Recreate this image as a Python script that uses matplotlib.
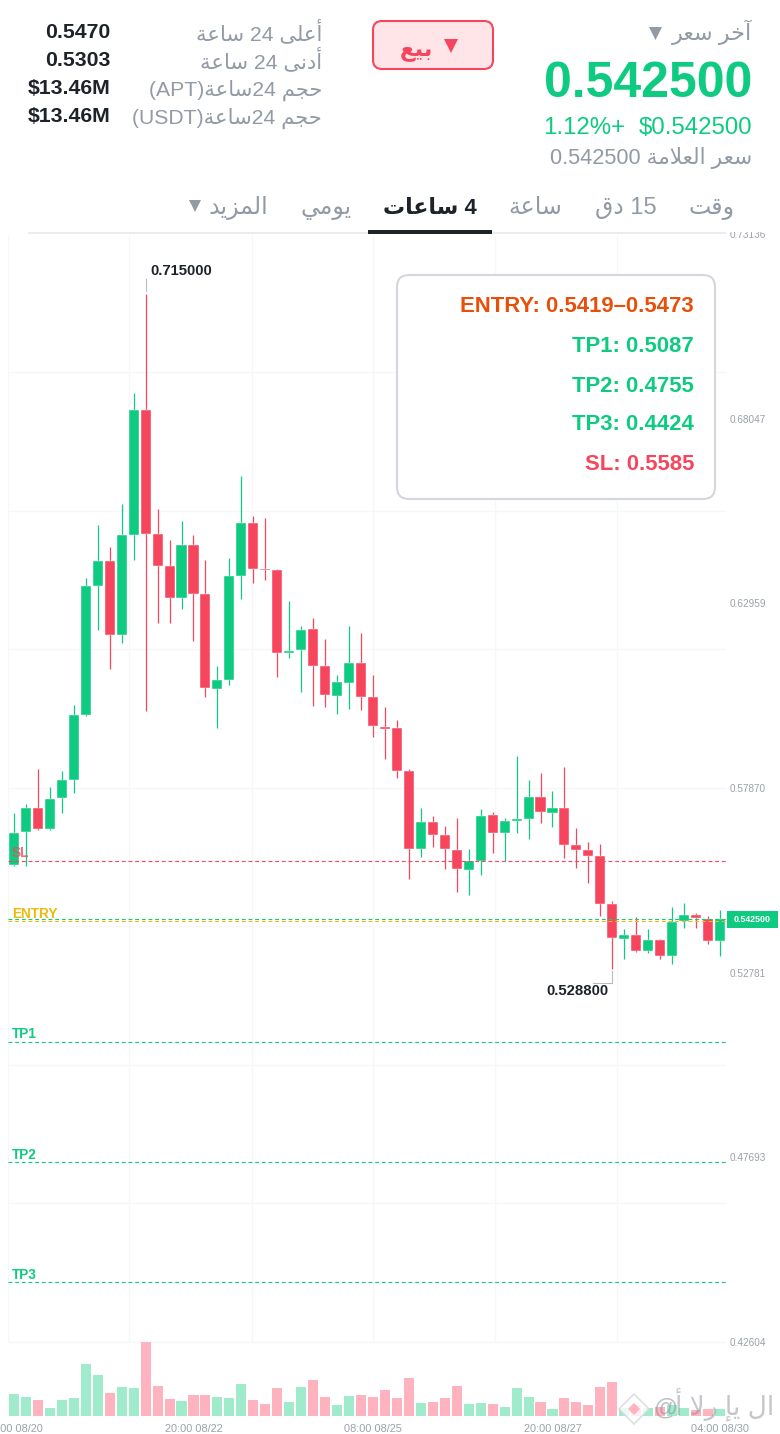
"""
APT/USDT 4h chart screenshot rebuilt with matplotlib: header, candles, levels, volume.
"""
import re

import matplotlib
matplotlib.use("Agg")
import matplotlib.pyplot as plt
import numpy as np
from matplotlib.patches import FancyBboxPatch, Polygon, Rectangle

# ── Data ─────────────────────────────────────────────────────────────────────

opens = [.5575, .5666, .5732, .5674, .5759, .5809, .5988, .6344, .6413, .6209,
         .6486, .6830, .6488, .6399, .6311, .6457, .6322, .6061, .6085, .6372,
         .6518, .6390, .6388, .6158, .6168, .6226, .6124, .6042, .6077, .6132,
         .6038, .5955, .5953, .5834, .5619, .5693, .5657, .5616, .5561, .5586,
         .5713, .5663, .5696, .5702, .5762, .5718, .5732, .5630, .5616, .5600,
         .5467, .5371, .5382, .5337, .5368, .5324, .5420, .5437, .5426, .5365]
closes = [.5663, .5732, .5674, .5757, .5808, .5988, .6344, .6413, .6209, .6485,
          .6829, .6488, .6399, .6311, .6457, .6322, .6064, .6085, .6372, .6518,
          .6391, .6387, .6159, .6165, .6223, .6124, .6044, .6079, .6132, .6038,
          .5958, .5950, .5835, .5619, .5693, .5657, .5619, .5564, .5586, .5710,
          .5663, .5696, .5702, .5762, .5721, .5732, .5630, .5616, .5600, .5467,
          .5373, .5382, .5337, .5368, .5324, .5417, .5437, .5429, .5365, .5425]
highs = [.5718, .5744, .5839, .5790, .5834, .6016, .6366, .6512, .6453, .6570,
         .6876, .7150, .6556, .6471, .6523, .6485, .6416, .6124, .6421, .6648,
         .6537, .6532, .6391, .6303, .6234, .6256, .6198, .6099, .6234, .6215,
         .6100, .6010, .5975, .5839, .5732, .5710, .5682, .5704, .5619, .5729,
         .5721, .5704, .5875, .5809, .5828, .5779, .5845, .5677, .5638, .5633,
         .5475, .5398, .5431, .5398, .5371, .5459, .5470, .5442, .5434, .5451]
lows = [.5573, .5573, .5671, .5671, .5719, .5773, .5986, .6223, .6115, .6188,
        .6415, .6000, .6243, .6242, .6282, .6192, .6038, .5953, .6071, .6308,
        .6352, .6361, .6093, .6146, .6052, .6013, .6010, .5991, .6005, .6002,
        .5928, .5867, .5815, .5536, .5597, .5624, .5564, .5500, .5492, .5547,
        .5608, .5586, .5663, .5646, .5690, .5679, .5594, .5566, .5525, .5434,
        .5288, .5315, .5335, .5332, .5315, .5302, .5401, .5401, .5357, .5324]
volumes = [65, 57, 48, 25, 47, 54, 156, 124, 68, 88, 83, 222, 90, 51, 45,
           63, 63, 57, 54, 96, 49, 36, 83, 42, 86, 108, 57, 34, 60, 63,
           56, 78, 55, 114, 40, 41, 54, 90, 37, 38, 37, 27, 83, 56, 42,
           21, 53, 42, 34, 88, 102, 23, 33, 23, 26, 33, 23, 18, 21, 22]

price_ticks = [0.73136, 0.68047, 0.62959, 0.57870, 0.52781, 0.47693, 0.42604]
grid_prices = [0.69344, 0.65510, 0.61704, 0.57870, 0.54064, 0.50230, 0.46424, 0.42604]
grid_index = [9.65, 19.86, 30.04, 40.16, 50.4]
time_ticks = [0, 15, 30, 45, 59]
time_labels = ["08:00 08/20", "20:00 08/22", "08:00 08/25", "20:00 08/27", "04:00 08/30"]

last_price = 0.5425
levels = [("SL", 0.5585), ("ENTRY", 0.5419), ("TP1", 0.5087), ("TP2", 0.4755), ("TP3", 0.4424)]
box_lines = ["ENTRY: 0.5419–0.5473", "TP1: 0.5087", "TP2: 0.4755", "TP3: 0.4424", "SL: 0.5585"]
stat_labels = ["أعلى 24 ساعة", "أدنى 24 ساعة", "حجم 24ساعة(APT)", "حجم 24ساعة(USDT)"]
stat_values = ["0.5470", "0.5303", "$13.46M", "$13.46M"]
tab_labels = ["وقت", "15 دق", "ساعة", "4 ساعات", "يومي", "المزيد"]

# ── Palette ──────────────────────────────────────────────────────────────────

GREEN = "#0ECB81"
RED = "#F6465D"
GREEN_VOL = "#A0EBCC"
RED_VOL = "#FFB3BF"
ORANGE = "#E8500A"
YELLOW = "#F0B90B"
DARK = "#1E2329"
GREY = "#929AA5"
AXIS_GREY = "#9BA1AB"
GRID = "#F6F7F8"
FONT = ["Liberation Sans", "DejaVu Sans"]
plt.rcParams["font.family"] = FONT

# ── Arabic: matplotlib does no shaping, so pick presentation forms by hand ───

JOINING = {"ب": 0xFE8F, "ت": 0xFE95, "ج": 0xFE9D, "ح": 0xFEA1, "خ": 0xFEA5, "س": 0xFEB1,
           "ع": 0xFEC9, "ق": 0xFED5, "ل": 0xFEDD, "م": 0xFEE1, "ن": 0xFEE5, "ي": 0xFEF1}
RIGHT_ONLY = {"ا": 0xFE8D, "أ": 0xFE83, "إ": 0xFE87, "آ": 0xFE81, "ة": 0xFE93, "د": 0xFEA9,
              "ر": 0xFEAD, "ز": 0xFEAF, "و": 0xFEED, "ى": 0xFEEF}
LAM_ALEF = {"ا": 0xFEFB, "أ": 0xFEF7, "إ": 0xFEF9, "آ": 0xFEF5}


def ar(text):
    """Shape Arabic letters and lay the string out left to right for drawing."""
    out = []
    prev_joins = False
    i = 0
    while i < len(text):
        ch = text[i]
        if ch == "ل" and i + 1 < len(text) and text[i + 1] in LAM_ALEF:
            out.append(chr(LAM_ALEF[text[i + 1]] + (1 if prev_joins else 0)))
            prev_joins = False
            i += 2
            continue
        if ch in RIGHT_ONLY:
            out.append(chr(RIGHT_ONLY[ch] + (1 if prev_joins else 0)))
            prev_joins = False
        elif ch in JOINING:
            next_ok = i + 1 < len(text) and (text[i + 1] in JOINING or text[i + 1] in RIGHT_ONLY)
            form = {(False, False): 0, (True, False): 1, (False, True): 2, (True, True): 3}[(prev_joins, next_ok)]
            out.append(chr(JOINING[ch] + form))
            prev_joins = next_ok
        else:
            out.append(ch)
            prev_joins = False
        i += 1
    visual = "".join(out)[::-1]
    visual = re.sub(r"[0-9A-Za-z.%$+]+", lambda m: m.group(0)[::-1], visual)
    return visual.translate(str.maketrans("()", ")("))


def px_axes(left, top, right, bottom):
    return fig.add_axes([left / 780, 1 - bottom / 1434, (right - left) / 780, (bottom - top) / 1434])


# ── Candles ──────────────────────────────────────────────────────────────────

fig = plt.figure(figsize=(7.8, 14.34), dpi=100, facecolor="white")
ax = px_axes(8, 234.5, 726, 1341.5)

o = np.array(opens)
c = np.array(closes)
x = np.arange(len(o))
up = c >= o
colors = np.where(up, GREEN, RED)
xlim = (-0.5, 59.5)

ax.hlines(grid_prices, *xlim, color=GRID, linewidth=1, zorder=0, clip_on=False)
ax.vlines(grid_index + [xlim[0]], price_ticks[-1], price_ticks[0], color=GRID, linewidth=1, zorder=0)
ax.vlines(x, lows, highs, color=colors, linewidth=0.9, zorder=2)
ax.bar(x, np.maximum(np.abs(c - o), 0.0005), bottom=np.minimum(o, c), width=0.84,
       color=colors, edgecolor="white", linewidth=0.3, zorder=3)

ax.axhline(last_price, color=GREEN, linewidth=0.8, dashes=(3.5, 2.5), zorder=4)
for name, price in levels:
    color = {"SL": RED, "ENTRY": YELLOW}.get(name, GREEN)
    ax.axhline(price, color=color, linewidth=0.8, dashes=(3.5, 2.5), zorder=4)

ax.set_xlim(*xlim)
ax.set_ylim(price_ticks[-1], price_ticks[0])
ax.set_xticks([])
ax.yaxis.tick_right()
ax.set_yticks(price_ticks)
ax.set_yticklabels([f"{v:.5f}" for v in price_ticks])
ax.tick_params(axis="y", length=0, pad=2.6, labelsize=7.2, labelcolor=AXIS_GREY)
for s in ax.spines.values():
    s.set_visible(False)

# ── Volume ───────────────────────────────────────────────────────────────────

ax_v = px_axes(8, 1342, 726, 1416)
ax_v.bar(x, volumes, width=0.84, color=np.where(up, GREEN_VOL, RED_VOL))
ax_v.set_xlim(*xlim)
ax_v.set_ylim(0, max(volumes))
ax_v.set_yticks([])
ax_v.set_xticks(time_ticks)
ax_v.set_xticklabels(time_labels)
ax_v.tick_params(axis="x", length=0, pad=5.5, labelsize=7.9, labelcolor=AXIS_GREY)
ax_v.patch.set_visible(False)
for s in ax_v.spines.values():
    s.set_visible(False)

# ── Overlay in screen pixels: header, tabs, labels, box ──────────────────────

ov = fig.add_axes([0, 0, 1, 1], zorder=10)
ov.set_xlim(0, 780)
ov.set_ylim(1434, 0)
ov.axis("off")

ov.add_patch(Rectangle((0, 0), 780, 232, facecolor="white", edgecolor="none", zorder=0))

# stats column, placed on baselines so Arabic and Latin rows line up
for i, (lbl, val) in enumerate(zip(stat_labels, stat_values)):
    ov.text(322, 40 + 28 * i, ar(lbl), ha="right", va="baseline", fontsize=15.2, color=GREY)
    ov.text(110, 38 + 28 * i, val, ha="right", va="baseline", fontsize=15.3, fontweight="bold", color=DARK)

# sell button
ov.add_patch(FancyBboxPatch((373, 21), 120, 48, boxstyle="round,pad=0,rounding_size=9",
                            facecolor="#FFE5E8", edgecolor=RED, linewidth=1.5))
ov.text(416, 55, ar("بيع"), ha="center", va="baseline", fontsize=16.5, fontweight="bold", color=RED)
ov.add_patch(Polygon([[444, 39], [458, 39], [451, 53]], closed=True, facecolor=RED, edgecolor="none"))

# last price block
ov.text(752, 40, ar("آخر سعر"), ha="right", va="baseline", fontsize=16, color=GREY)
ov.add_patch(Polygon([[649, 27], [662, 27], [655.5, 40]], closed=True, facecolor=GREY, edgecolor="none"))
ov.text(752, 97, "0.542500", ha="right", va="baseline", fontsize=36, fontweight="bold", color=GREEN)
ov.text(752, 134, "$0.542500", ha="right", va="baseline", fontsize=17.3, color=GREEN)
ov.text(625, 134, "1.12%+", ha="right", va="baseline", fontsize=17.3, color=GREEN)
ov.text(752, 164, ar("سعر العلامة 0.542500"), ha="right", va="baseline", fontsize=15.7, color=GREY)

# timeframe tabs
tab_x = [712, 626, 535, 430, 326, 238]
for i, (lbl, tx) in enumerate(zip(tab_labels, tab_x)):
    active = i == 3
    ov.text(tx, 214, ar(lbl), ha="center", va="baseline", fontsize=15.8 if active else 17,
            fontweight="bold" if active else "normal", color=DARK if active else GREY)
ov.add_patch(Polygon([[189, 200], [201, 200], [195, 212]], closed=True, facecolor=GREY, edgecolor="none"))
ov.add_patch(Rectangle((28, 232), 698, 2, facecolor="#EAECEF", edgecolor="none"))
ov.add_patch(Rectangle((368, 230), 124, 4, facecolor=DARK, edgecolor="none"))

# level names on the chart
level_y = {"SL": 857, "ENTRY": 918, "TP1": 1038, "TP2": 1159, "TP3": 1279}
for name, _ in levels:
    color = {"SL": RED, "ENTRY": YELLOW}.get(name, GREEN)
    ov.text(12, level_y[name], name, ha="left", va="baseline", fontsize=9.8,
            fontweight="bold", color=color, alpha=0.8 if name == "SL" else 1)

# extreme labels with leaders
ov.text(150, 275, "0.715000", ha="left", va="baseline", fontsize=10.7, fontweight="bold", color=DARK)
ov.plot([145.5, 145.5], [279, 291], color="#B7BDC6", linewidth=0.8)
ov.text(546, 995, "0.528800", ha="left", va="baseline", fontsize=10.7, fontweight="bold", color=DARK)
ov.plot([612, 612, 593], [971, 983, 983], color="#B7BDC6", linewidth=0.8)

# last price tag
ov.add_patch(Rectangle((727, 911), 51, 17, facecolor=GREEN, edgecolor="none"))
ov.text(752.5, 919.7, "0.542500", ha="center", va="center", fontsize=6.4, fontweight="bold", color="white")

# signal box
ov.add_patch(FancyBboxPatch((397, 275), 318, 224, boxstyle="round,pad=0,rounding_size=12",
                            facecolor="white", edgecolor="#D3D6DC", linewidth=1.5))
box_colors = [ORANGE, GREEN, GREEN, GREEN, RED]
box_y = [312.5, 352, 392, 430, 470.5]
for line, col, y in zip(box_lines, box_colors, box_y):
    ov.text(694, y, line, ha="right", va="baseline", fontsize=15.9, fontweight="bold", color=col)

# watermark
ov.add_patch(Polygon([[634, 1394], [649, 1409], [634, 1424], [619, 1409]], closed=True,
                     facecolor="white", edgecolor="#D5D7DB", linewidth=1.2, alpha=0.8))
ov.add_patch(Polygon([[634, 1403], [640, 1409], [634, 1415], [628, 1409]], closed=True,
                     facecolor=RED_VOL, edgecolor="none"))
ov.text(665, 1408, "@", ha="center", va="center", fontsize=17, color="#8A8F98", alpha=0.55)
ov.text(774, 1416, ar("ال يإ رلا أ"), ha="right", va="baseline", fontsize=19, color="#8A8F98", alpha=0.5)

fig.savefig("out.png", dpi=100)
